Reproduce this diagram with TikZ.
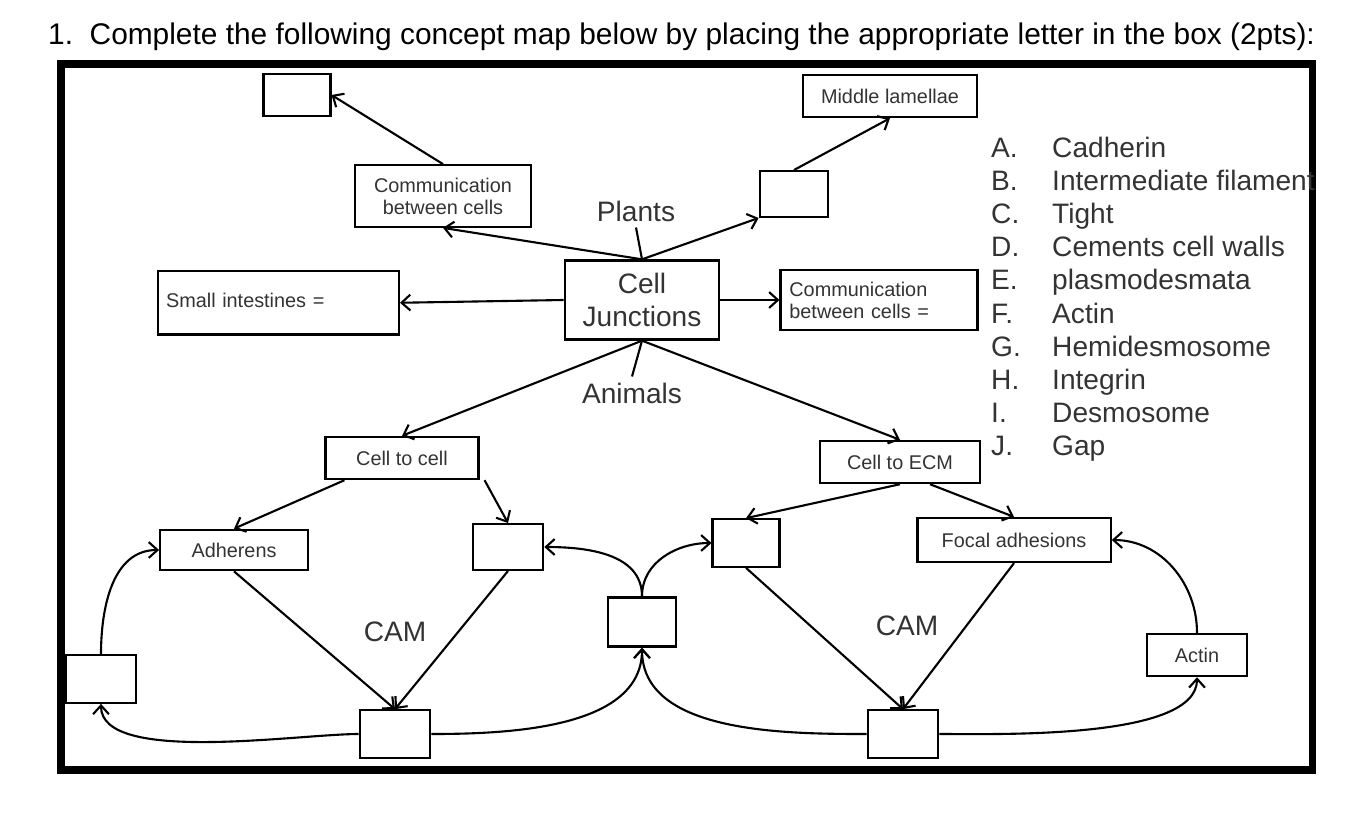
\documentclass[tikz,border=0pt]{standalone}
\usepackage{fontspec}
\setmainfont{Liberation Sans}
\usetikzlibrary{arrows.meta}
\begin{document}
\begin{tikzpicture}[x=0.02cm,y=-0.02cm,
  box/.style={draw,line width=1.3pt,inner sep=0pt,align=center,font=\fontsize{11.3}{12.5}\selectfont\color{black!80}},
  lbl/.style={font=\fontsize{16}{18}\selectfont\color{black!80}},
  link/.style={line width=1.2pt,-{Straight Barb[length=5pt,width=9pt]}},
  tick/.style={line width=1.2pt}]
\useasboundingbox (0,0) rectangle (1368,838);

\node[anchor=west,font=\fontsize{17}{19}\selectfont] at (42,37) {1.\ \ Complete the following concept map below by placing the appropriate letter in the box (2pts):};
\draw[line width=4pt] (61,64) rectangle (1312,770);

% boxes
\node[box,minimum width=38,minimum height=24] (topleft) at (297,95) {};
\node[box,minimum width=99,minimum height=24] (lamellae) at (890,96) {Middle lamellae};
\node[box,minimum width=100,minimum height=35] (commL) at (443,196) {Communication\\between cells};
\node[box,minimum width=39,minimum height=26] (plantbox) at (794,194) {};
\node[box,minimum width=88,minimum height=45,font=\fontsize{16}{19}\selectfont\color{black!80}] (cj) at (642,300) {Cell\\Junctions};
\node[box,minimum width=137,minimum height=36,text width=128,align=left,anchor=north west] (small) at (157,270) {\strut Small intestines =};
\node[box,minimum width=112,minimum height=34,text width=102,align=left] (commR) at (879,300) {Communication\\between cells =};
\node[box,minimum width=87,minimum height=24] (c2c) at (402,458) {Cell to cell};
\node[box,minimum width=91,minimum height=24] (c2ecm) at (900,462) {Cell to ECM};
\node[box,minimum width=84,minimum height=23] (adherens) at (234,550) {Adherens};
\node[box,minimum width=40,minimum height=26] (b1) at (508,547) {};
\node[box,minimum width=39,minimum height=28] (mid) at (642,622) {};
\node[box,minimum width=38,minimum height=27] (b2) at (746,543) {};
\node[box,minimum width=110,minimum height=25] (focal) at (1014,540) {Focal adhesions};
\node[box,minimum width=40,minimum height=27] (left) at (101,679) {};
\node[box,minimum width=57,minimum height=24] (actin) at (1197,655) {Actin};
\node[box,minimum width=40,minimum height=27] (botL) at (395,734) {};
\node[box,minimum width=40,minimum height=27] (botR) at (903,734) {};

% labels
\node[lbl] (plants) at (636,211) {Plants};
\node[lbl] (animals) at (632,393) {Animals};
\node[lbl] (camL) at (395,632) {CAM};
\node[lbl] (camR) at (907,626) {CAM};

% answer list
\foreach \l/\t [count=\i from 0] in {A./Cadherin,B./Intermediate filament,C./Tight,D./Cements cell walls,E./plasmodesmata,F./Actin,G./Hemidesmosome,H./Integrin,I./Desmosome,J./Gap}{
  \node[lbl,anchor=base west] at (985,157+33.2*\i) {\l};
  \node[lbl,anchor=base west] at (1046,157+33.2*\i) {\t};
}

% connectors
\draw[tick] (plants.south) -- (cj.north);
\draw[tick] (cj.south) -- (animals.north);
\draw[link] (cj.north) -- (commL.south);
\draw[link] (commL.north) -- (topleft.east);
\draw[link] (cj.north) -- (plantbox.south west);
\draw[link] (plantbox.north) -- (lamellae.south);
\draw[link] (cj.west) -- (small.east);
\draw[link] (cj.east) -- (commR.west);
\draw[link] (cj.south) -- (c2c.north);
\draw[link] (cj.south) -- (c2ecm.north);
\draw[link] (c2c.south west) ++(20,0) coordinate (c2cA) (c2cA) -- (adherens.north);
\draw[link] (c2c.south east) ++(5,0) coordinate (c2cB) (c2cB) -- (b1.north);
\draw[link] (c2ecm.south) -- (b2.north);
\draw[link] (c2ecm.south) ++(30,0) coordinate (c2ecmB) (c2ecmB) -- (focal.north);
\draw[link] (adherens.south) -- (botL.north);
\draw[link] (b1.south) -- (botL.north);
\draw[link] (b2.south) -- (botR.north);
\draw[link] (focal.south) -- (botR.north);
\draw[link] (botL.west) to[out=180,in=-90,looseness=0.6] (left.south);
\draw[link] (left.north) to[out=90,in=180] (adherens.west);
\draw[link] (botL.east) to[out=0,in=-90,looseness=0.9] (mid.south);
\draw[link] (botR.west) to[out=180,in=-90,looseness=0.9] (mid.south);
\draw[link] (mid.north) to[out=90,in=0] (b1.east);
\draw[link] (mid.north) to[out=90,in=180] (b2.west);
\draw[link] (botR.east) to[out=0,in=-90,looseness=0.6] (actin.south);
\draw[link] (actin.north) to[out=90,in=0] (focal.east);
\end{tikzpicture}
\end{document}
